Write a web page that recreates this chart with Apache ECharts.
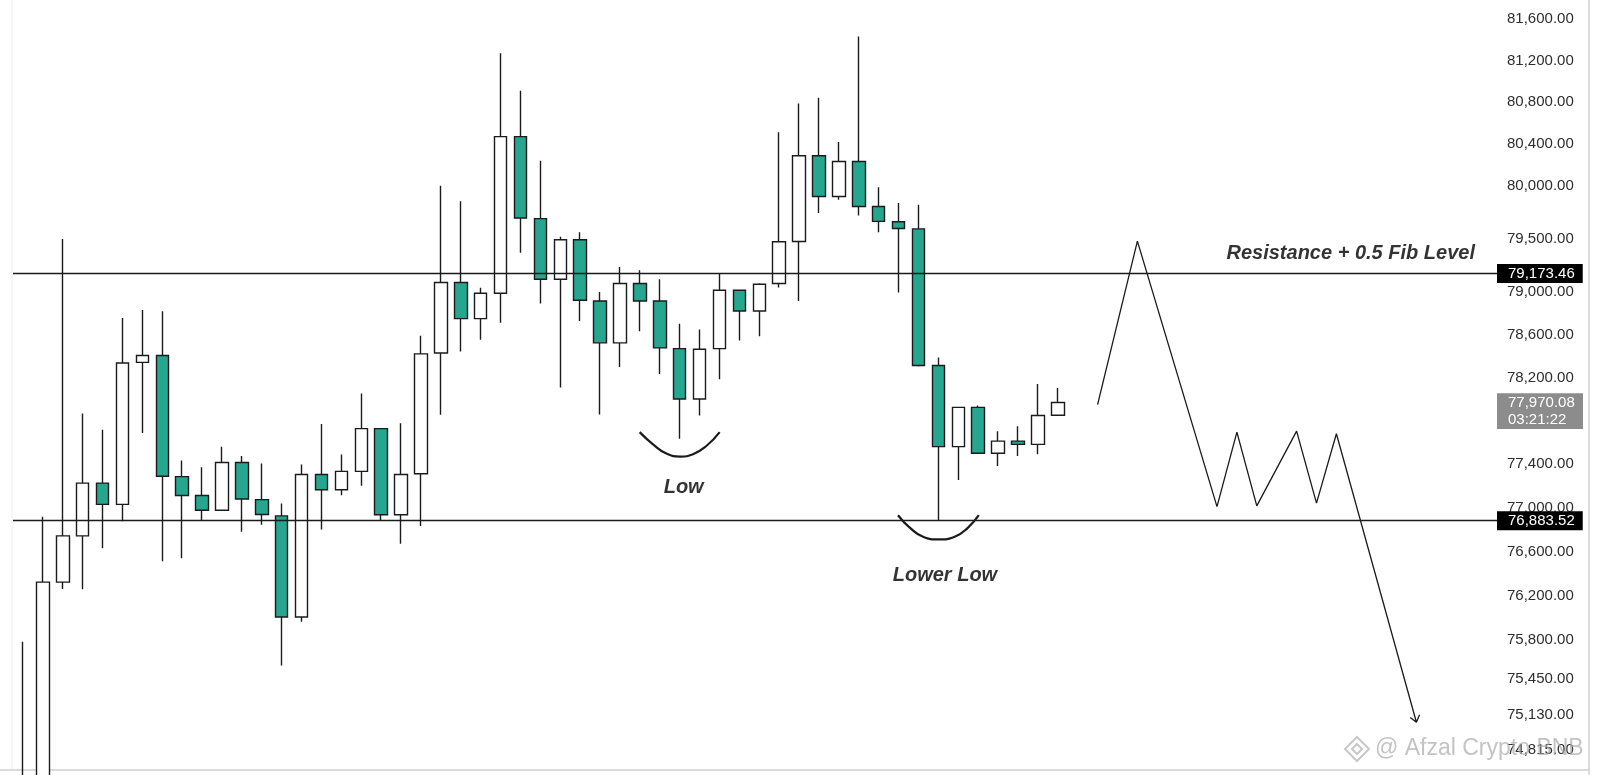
<!DOCTYPE html>
<html>
<head>
<meta charset="utf-8">
<script src="https://cdn.jsdelivr.net/npm/echarts@6/dist/echarts.min.js"></script>
<style>
html,body{margin:0;padding:0;background:#fff;}
#chart{width:1600px;height:775px;}
</style>
</head>
<body>
<div id="chart"></div>
<script>
// ---- candle data (index = bar number) ----
const opens  = [74500,74450,76324,76745,77227,77032,78342,78406,77286,77113,76978,77416,77076,76927,76009,77306,77166,77335,77728,76938,77313,78429,79089,78750,78988,80471,79691,79119,79491,78915,78524,79079,78915,78470,78002,78470,79016,78821,79079,79475,80288,79900,80233,79806,79662,79594,78313,77562,77925,77501,77613,77583,77852];
const closes = [74400,76324,76745,77227,77032,78336,78406,77290,77113,76978,77416,77082,76940,76009,77306,77166,77335,77728,76938,77306,78421,79089,78750,78988,80471,79697,79119,79491,78922,78524,79079,78915,78477,78002,78464,79016,78821,79072,79472,80288,79900,80233,79806,79665,79597,78313,77562,77925,77501,77613,77583,77849,77970.08];
const lows   = [74300,74350,76262,76259,76632,76878,77687,76513,76541,76884,76972,76783,76846,75573,75966,76803,77115,77203,76883,76673,76835,77857,78444,78553,78712,79369,78891,78108,78727,77858,78298,78633,78235,77635,77849,78185,78545,78586,79041,78915,79744,79869,79721,79562,78994,78303,76884,77256,77495,77384,77476,77492,77850];
const highs  = [75785,76918,79498,77869,77718,78755,78830,78820,77435,77372,77560,77475,77407,77041,77397,77772,77490,78052,77735,77779,78591,80002,79856,79040,81272,80910,80240,79519,79562,79000,79234,79203,79119,78703,78649,79172,79020,79082,80512,80787,80842,80419,81433,79988,79838,79822,78388,77930,77943,77705,77751,78142,78103];

// ---- price scale labels ----
const tickValues = [74815,75130,75450,75800,76200,76600,77000,77400,78200,78600,79000,79500,80000,80400,80800,81200,81600];

// ---- levels ----
const resistanceLevel = 79173.46;
const supportLevel = 76883.52;
const lastPrice = 77970.08;
const countdown = '03:21:22';

// ---- hand-drawn projection path (bar index, price) ----
const pathX = [54, 56, 60, 61, 62, 64, 65, 66, 70.02, 69.71, 70.02, 70.18];
const pathY = [77950, 79478, 77012, 77696, 77018, 77705, 77043, 77681, 75065, 75108, 75065, 75131];

// ---- arcs under the lows ----
const lowArcX = [30.99, 31.66, 32.33, 33.04, 33.67, 34.34, 35.01];
const lowArcY = [77696, 77583, 77498, 77471, 77492, 77568, 77696];
const lowerLowArcX = [43.97, 44.56, 45.23, 46.02, 46.82, 47.49, 48.03];
const lowerLowArcY = [76933, 76820, 76737, 76712, 76737, 76820, 76933];

// ---- text notes ----
const noteText = ['Resistance + 0.5 Fib Level', 'Low', 'Lower Low'];
const noteX = [66.72, 33.2, 46.33];
const noteY = [79358, 77189, 76383];

const FONT = 'Liberation Sans, Arial, Helvetica, sans-serif';
const TEAL = '#26a68f';
const INK = '#1b1b1b';

function fmt(v) {
  return Number(v).toLocaleString('en-US', {minimumFractionDigits: 2, maximumFractionDigits: 2});
}

const candleData = opens.map((o, i) => [i, o, closes[i], lows[i], highs[i]]);
const pathData = pathX.map((x, i) => [x, pathY[i]]);
const lowArc = lowArcX.map((x, i) => [x, lowArcY[i]]);
const lowerLowArc = lowerLowArcX.map((x, i) => [x, lowerLowArcY[i]]);
const notes = noteText.map((t, i) => ({value: [noteX[i], noteY[i]], name: t}));

const boxLabel = {
  show: true, position: 'end', distance: 0,
  backgroundColor: '#000', color: '#fff', fontFamily: FONT, fontSize: 15,
  padding: [1, 8, 1, 11], lineHeight: 17,
  formatter: p => fmt(p.value)
};
const grayTok = {backgroundColor: '#8c8c8c', color: '#fff', fontFamily: FONT, fontSize: 15,
  width: 75, height: 18.2, lineHeight: 17.5, padding: [0, 0, 0, 11], align: 'left'};

const chart = echarts.init(document.getElementById('chart'), null, {renderer: 'canvas'});
chart.setOption({
  animation: false,
  backgroundColor: '#fff',
  grid: {left: 13, right: 103, top: 0, bottom: 7, outerBoundsMode: 'none', containLabel: false},
  xAxis: {
    type: 'value', min: -0.5, max: 74.07,
    show: false
  },
  yAxis: {
    type: 'log', logBase: 10, position: 'right',
    min: 74658, max: 81787,
    axisLine: {show: false}, axisTick: {show: false}, splitLine: {show: false},
    axisLabel: {
      customValues: tickValues, margin: 10,
      color: '#2e2e2e', fontFamily: FONT, fontSize: 15,
      formatter: v => fmt(v)
    }
  },
  series: [
    {
      type: 'candlestick',
      data: candleData,
      barWidth: 13,
      clip: true,
      itemStyle: {
        color: '#ffffff', color0: TEAL,
        borderColor: INK, borderColor0: INK, borderWidth: 1.4
      }
    },
    {
      type: 'line',
      data: pathData,
      symbol: 'none', clip: false, z: 5,
      lineStyle: {color: INK, width: 1.3},
      markLine: {
        silent: true,
        symbol: ['none', 'none'],
        lineStyle: {color: INK, width: 1.3, type: 'solid'},
        data: [
          {yAxis: resistanceLevel, label: boxLabel},
          {yAxis: supportLevel, label: boxLabel},
          {yAxis: lastPrice, lineStyle: {color: 'rgba(0,0,0,0)', width: 0.01},
           label: {
             show: true, position: 'end', distance: 0, opacity: 1,
             formatter: '{e| }\n{a|' + fmt(lastPrice) + '}\n{b|' + countdown + '}',
             rich: {e: {height: 17.5, lineHeight: 17.5, fontSize: 15}, a: grayTok, b: grayTok}
           }}
        ]
      }
    },
    {
      type: 'line', data: lowArc, smooth: true, symbol: 'none', clip: false,
      lineStyle: {color: INK, width: 2.2}
    },
    {
      type: 'line', data: lowerLowArc, smooth: true, symbol: 'none', clip: false,
      lineStyle: {color: INK, width: 2.2}
    },
    {
      type: 'scatter', data: notes, symbolSize: 0, z: 6,
      label: {
        show: true, position: 'inside', formatter: p => p.name,
        color: '#000', fontFamily: FONT, fontSize: 20, fontWeight: 'bold', fontStyle: 'italic'
      }
    }
  ],
  graphic: [
    {type: 'line', z: 1, shape: {x1: 12, y1: 0, x2: 12, y2: 770}, style: {stroke: '#ececec', lineWidth: 1}},
    {type: 'line', z: 1, shape: {x1: 1589, y1: 0, x2: 1589, y2: 775}, style: {stroke: '#dcdcdc', lineWidth: 2}},
    {type: 'line', z: 1, shape: {x1: 0, y1: 770, x2: 1589, y2: 770}, style: {stroke: '#cfcfcf', lineWidth: 1.5}},
    {type: 'polygon', z: 100, shape: {points: [[1357, 737], [1369, 749], [1357, 761], [1345, 749]]},
     style: {fill: 'none', stroke: 'rgba(185,185,185,0.8)', lineWidth: 2}},
    {type: 'polygon', z: 100, shape: {points: [[1357, 744], [1362, 749], [1357, 754], [1352, 749]]},
     style: {fill: 'none', stroke: 'rgba(185,185,185,0.8)', lineWidth: 2}},
    {type: 'text', z: 100, x: 1375, y: 749,
     style: {text: '@ Afzal Crypto BNB', fill: 'rgba(170,170,170,0.7)', font: '23px ' + FONT, verticalAlign: 'middle', align: 'left'}}
  ]
});
</script>
</body>
</html>
